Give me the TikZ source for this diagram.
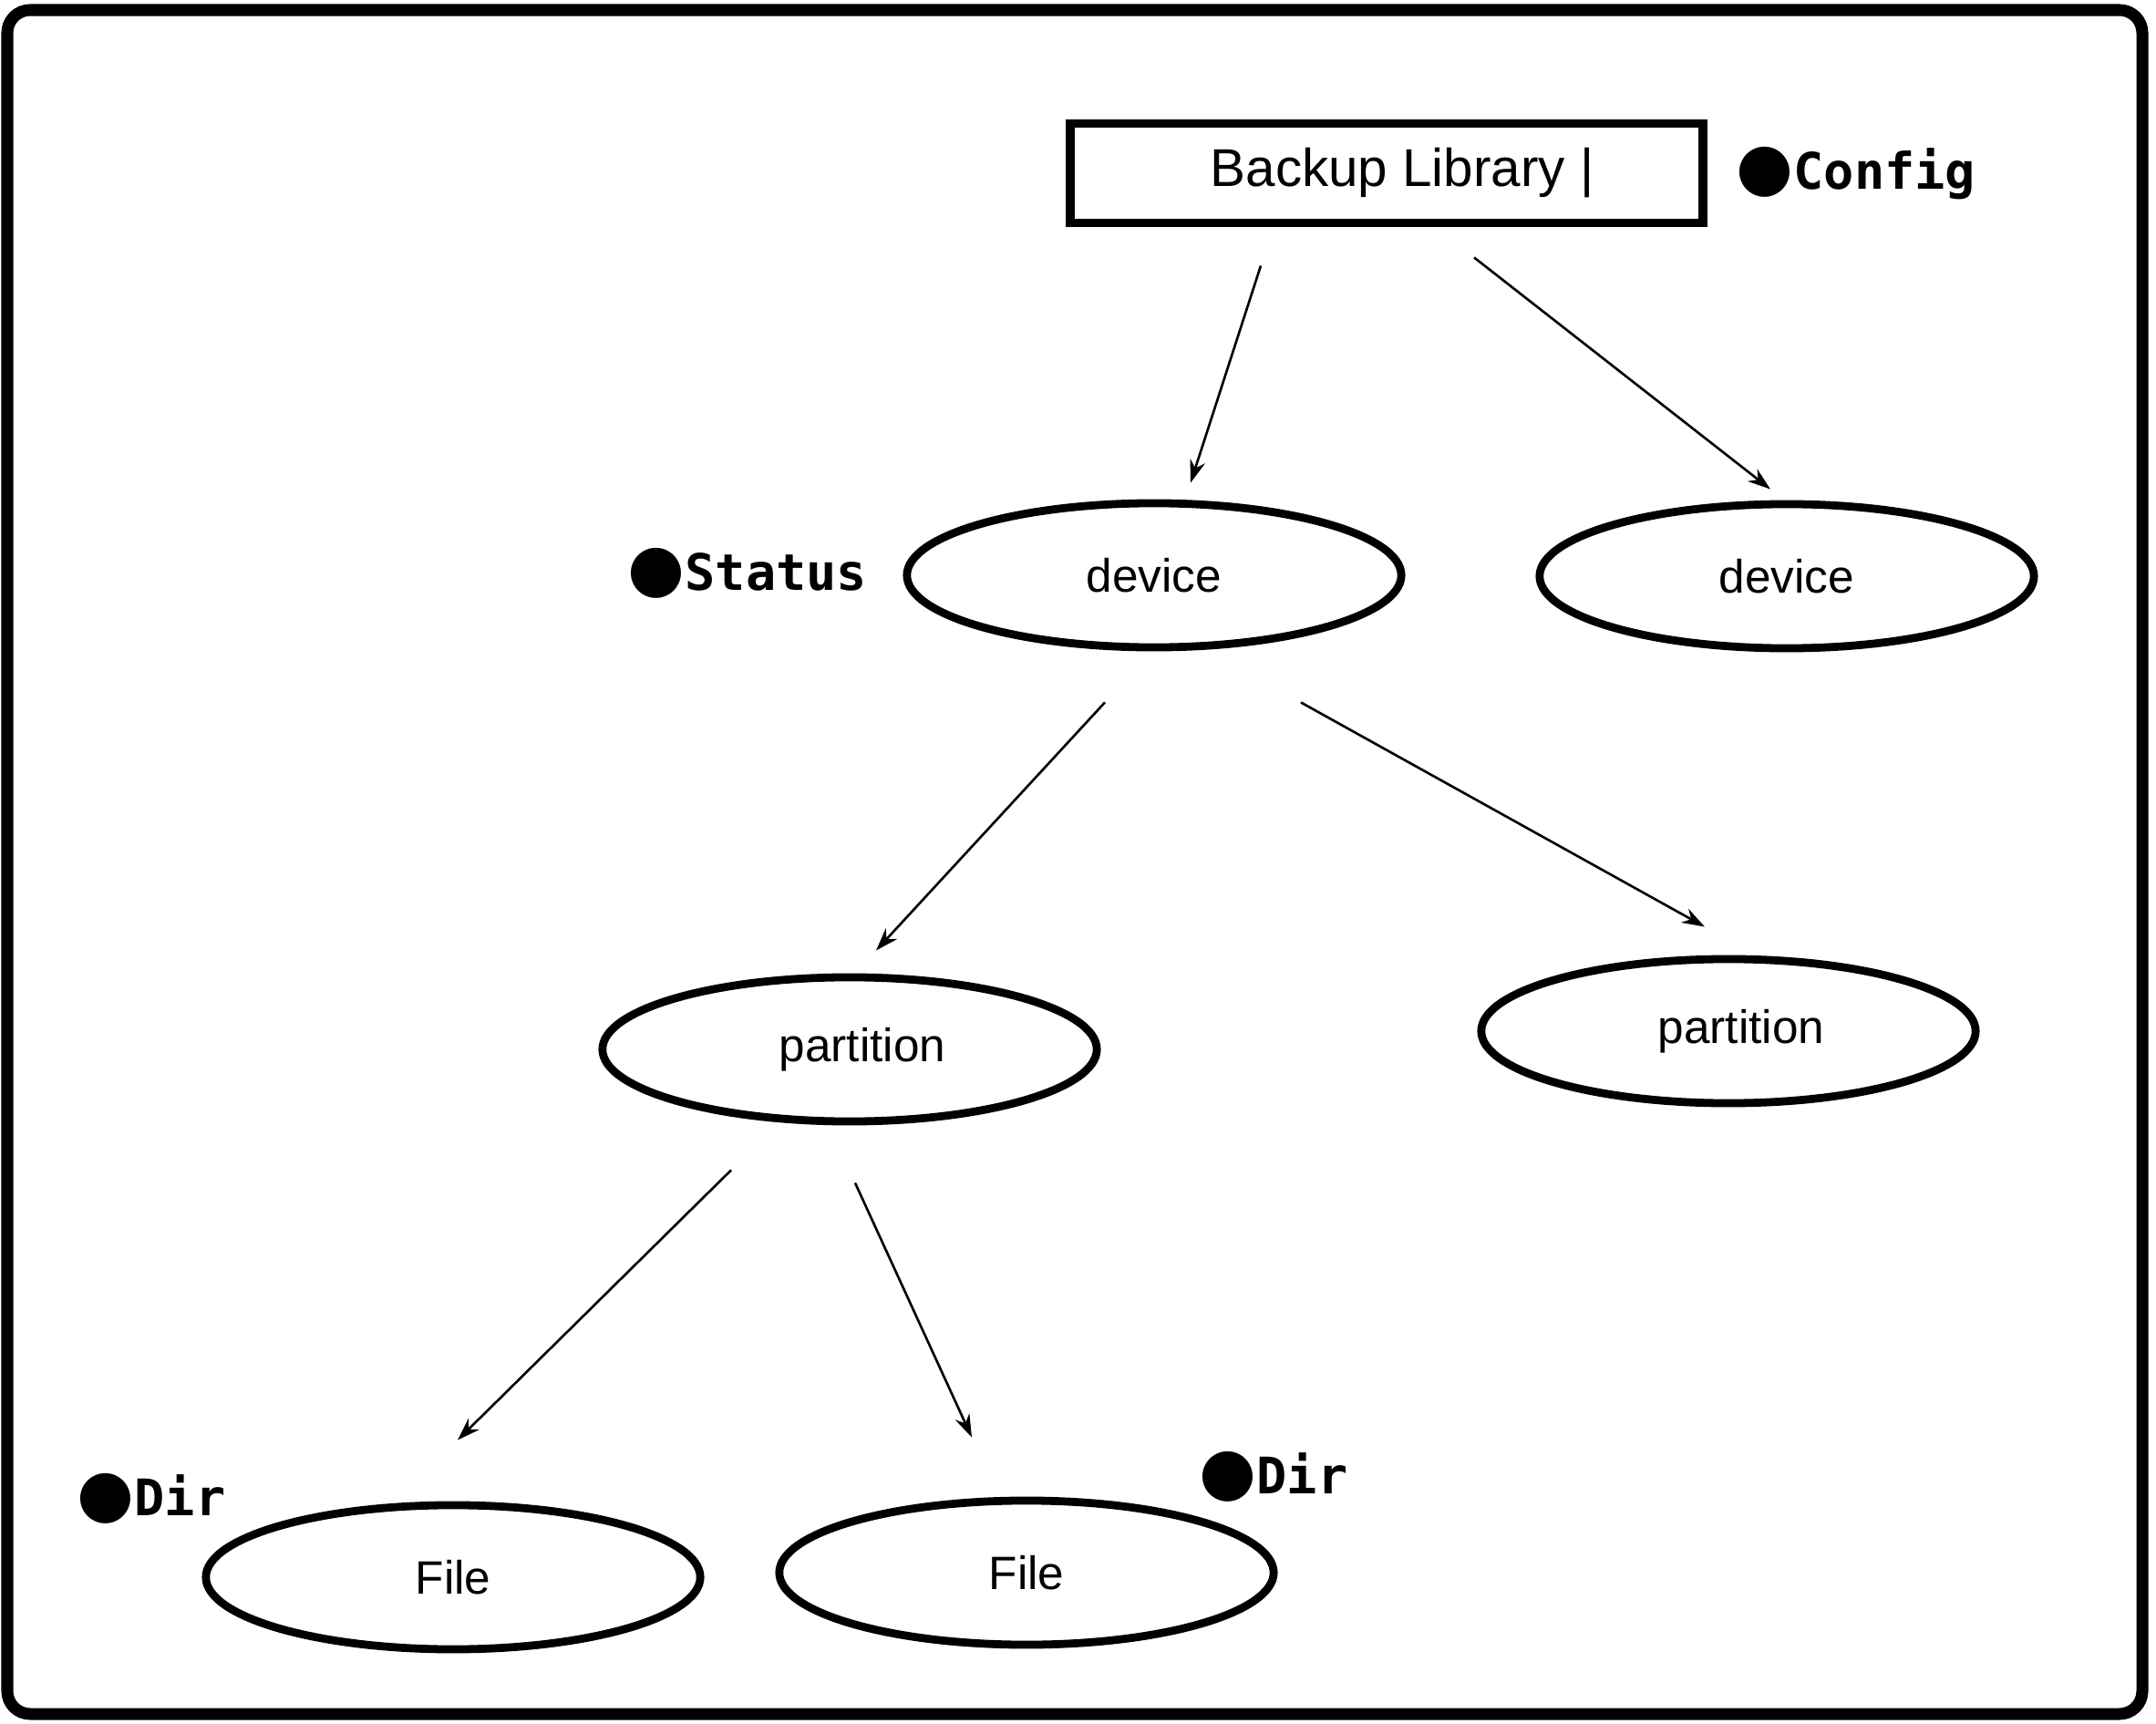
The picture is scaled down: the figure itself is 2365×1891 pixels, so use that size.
\documentclass[tikz,border=0pt]{standalone}
\usepackage{fontspec}
\setmainfont{Liberation Sans}
\newfontfamily\tagfont{DejaVu Sans Mono}
\newfontfamily\dotfont{DejaVu Sans}
\usetikzlibrary{shapes.geometric,arrows.meta,calc}

\newcommand{\bul}{{\dotfont\fontsize{20.5}{20}\selectfont ●}}

\tikzstyle{every node}=[font=\fontsize{14.6}{17}\selectfont]
\tikzstyle{lib}=[draw, line width=2.8pt, minimum width=6.93cm, minimum height=1.09cm, inner sep=0pt, font=\fontsize{16.6}{19}\selectfont]
\tikzstyle{elem}=[draw, ellipse, line width=2.5pt, minimum width=5.42cm, minimum height=1.58cm, inner sep=0pt]
\tikzstyle{tag}=[inner sep=0pt, font=\tagfont\bfseries\fontsize{15.7}{18}\selectfont]
\tikzstyle{arr}=[-{Stealth[length=0.25cm,width=0.17cm]}, line width=0.75pt]

\begin{document}
\begin{tikzpicture}[x=0.01cm, y=-0.01cm]
            \useasboundingbox (0,0) rectangle (2365,1891);
            \draw[line width=3.7pt, rounded corners=0.25cm] (8,11) rectangle (2350,1880);

            % 顶层：备份库
            \node[lib] (lib) at (1521,190) {\hspace*{0.34cm}Backup Library |};
            \node[tag] (config) at (2036,190) {\bul Config};

            % 第二层：设备
            \node[elem] (devA) at (1266,631) {device};
            \node[elem] (devB) at (1960,632) {device};
            \node[tag] (status) at (820,629) {\bul Status};

            % 第三层：分区
            \node[elem] (partA) at (932,1151) {\hspace*{0.28cm}partition};
            \node[elem] (partB) at (1896,1131) {\hspace*{0.28cm}partition};

            % 第四层：文件
            \node[elem] (fileA) at (497,1730) {File};
            \node[elem] (fileB) at (1126,1725) {File};
            \node[tag] (dirA) at (166,1644) {\bul Dir};
            \node[tag] (dirB) at (1397,1620) {\bul Dir};

            % 箭头
            \draw[arr] ($(lib.south)+(-138,42)$) -- ($(devA.north)+(40,-18)$);
            \draw[arr] ($(lib.south)+(96,33)$) -- ($(devB.north)+(-18,-12)$);
            \draw[arr] ($(devA.south)+(-54,56)$) -- ($(partA.north)+(29,-25)$);
            \draw[arr] ($(devA.south)+(161,56)$) -- ($(partB.north)+(-26,-31)$);
            \draw[arr] ($(partA.south)+(-130,49)$) -- ($(fileA.north)+(5,-67)$);
            \draw[arr] ($(partA.south)+(6,63)$) -- ($(fileB.north)+(-60,-65)$);
        \end{tikzpicture}
\end{document}
